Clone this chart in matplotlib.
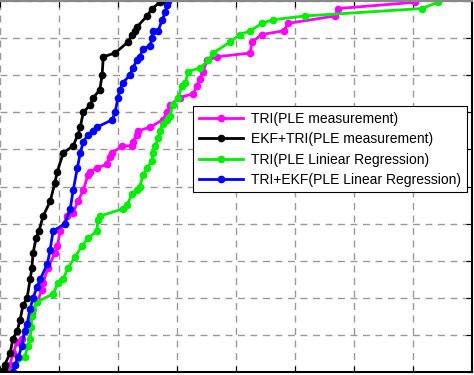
import matplotlib
matplotlib.use('Agg')
import matplotlib.pyplot as plt

# CDF curves (x in grid units, y = cumulative probability)
tri_meas_x = [0.10, 0.17, 0.22, 0.29, 0.37, 0.46, 0.54, 0.63, 0.71, 0.73, 0.81, 0.93, 0.97,
              1.02, 1.14, 1.24, 1.32, 1.41, 1.49, 1.53, 1.64, 1.81, 1.86, 1.90, 2.07, 2.24,
              2.25, 2.32, 2.34, 2.54, 2.76, 2.83, 2.88, 3.05, 3.27, 3.34, 3.39, 3.44, 3.51,
              3.68, 4.24, 4.27, 4.44, 4.81, 4.88, 5.68, 5.73, 7.03]
tri_meas_y = [0.005, 0.02, 0.05, 0.08, 0.09, 0.12, 0.16, 0.19, 0.22, 0.24, 0.28, 0.32, 0.34,
              0.38, 0.42, 0.43, 0.46, 0.49, 0.53, 0.54, 0.55, 0.56, 0.58, 0.59, 0.61, 0.61,
              0.62, 0.64, 0.65, 0.66, 0.68, 0.70, 0.72, 0.74, 0.75, 0.77, 0.79, 0.81, 0.84,
              0.85, 0.86, 0.89, 0.91, 0.92, 0.94, 0.96, 0.98, 0.997]

ekf_meas_x = [0.07, 0.08, 0.17, 0.22, 0.29, 0.34, 0.39, 0.46, 0.51, 0.54, 0.56, 0.61, 0.66,
              0.73, 0.85, 0.93, 0.97, 1.07, 1.24, 1.32, 1.36, 1.41, 1.53, 1.58, 1.69, 1.73,
              1.75, 1.95, 2.17, 2.24, 2.29, 2.32, 2.49, 2.58, 2.71, 2.82]
ekf_meas_y = [0.005, 0.02, 0.05, 0.09, 0.11, 0.14, 0.18, 0.20, 0.25, 0.28, 0.32, 0.36, 0.38,
              0.42, 0.46, 0.51, 0.54, 0.59, 0.61, 0.64, 0.66, 0.70, 0.72, 0.74, 0.76, 0.80,
              0.85, 0.86, 0.89, 0.91, 0.92, 0.93, 0.96, 0.98, 0.997, 1.0]

tri_lr_x = [0.20, 0.25, 0.42, 0.47, 0.51, 0.53, 0.54, 0.56, 0.63, 0.90, 0.98, 1.07, 1.15,
            1.27, 1.39, 1.49, 1.64, 1.66, 1.69, 2.08, 2.15, 2.24, 2.32, 2.37, 2.42, 2.49,
            2.58, 2.59, 2.63, 2.68, 2.71, 2.76, 2.83, 2.88, 2.93, 3.02, 3.08, 3.14, 3.19,
            3.39, 3.53, 3.61, 3.90, 4.07, 4.24, 4.44, 4.63, 5.17, 7.15, 7.42]
tri_lr_y = [0.0, 0.02, 0.04, 0.07, 0.09, 0.12, 0.15, 0.17, 0.19, 0.21, 0.24, 0.25, 0.28,
            0.31, 0.34, 0.36, 0.38, 0.41, 0.42, 0.44, 0.45, 0.48, 0.49, 0.50, 0.53, 0.55,
            0.57, 0.59, 0.61, 0.63, 0.65, 0.67, 0.68, 0.69, 0.72, 0.74, 0.77, 0.78, 0.81,
            0.82, 0.84, 0.86, 0.89, 0.91, 0.92, 0.94, 0.95, 0.96, 0.98, 0.997]

tri_ekf_lr_x = [0.22, 0.25, 0.31, 0.37, 0.42, 0.46, 0.51, 0.56, 0.63, 0.68, 0.80, 0.85, 0.90,
                1.10, 1.19, 1.24, 1.31, 1.36, 1.41, 1.49, 1.58, 1.64, 1.90, 1.95, 2.00, 2.03,
                2.08, 2.20, 2.25, 2.32, 2.37, 2.42, 2.54, 2.58, 2.59, 2.68, 2.75, 2.80, 2.83,
                2.85]
tri_ekf_lr_y = [0.0, 0.02, 0.04, 0.07, 0.11, 0.13, 0.17, 0.20, 0.23, 0.25, 0.29, 0.33, 0.38,
                0.40, 0.44, 0.49, 0.55, 0.59, 0.62, 0.64, 0.65, 0.66, 0.68, 0.70, 0.74, 0.76,
                0.78, 0.80, 0.82, 0.84, 0.85, 0.87, 0.88, 0.90, 0.92, 0.92, 0.95, 0.97, 0.99,
                1.0]

labels = ['TRI(PLE measurement)', 'EKF+TRI(PLE measurement)',
          'TRI(PLE Liniear Regression)', 'TRI+EKF(PLE Linear Regression)']
colors = ['#ff00ff', 'black', '#00ee00', '#0000ff']

plt.rcParams['font.family'] = ['Liberation Sans', 'DejaVu Sans']

fig = plt.figure(figsize=(4.74, 3.75), dpi=100)
ax = fig.add_axes([0.0, 0.008, 0.996, 0.989])

series = [(tri_meas_x, tri_meas_y), (ekf_meas_x, ekf_meas_y),
          (tri_lr_x, tri_lr_y), (tri_ekf_lr_x, tri_ekf_lr_y)]
for (xs, ys), lab, c in zip(series, labels, colors):
    ax.plot(xs, ys, '-o', color=c, lw=2, ms=4.5, label=lab)

ax.set_xlim(0, 8)
ax.set_ylim(0, 1)
ax.set_xticks(range(0, 9))
ax.set_yticks([i / 10 for i in range(11)])
ax.tick_params(direction='in', labelleft=False, labelbottom=False, left=False,
               top=True, right=True, length=4)
ax.grid(True, color='#999999', ls=(0, (5, 4)), lw=1)
for s in ax.spines.values():
    s.set_linewidth(1.5)
ax.spines['left'].set_visible(False)
ax.spines['top'].set_color('#888888')

leg = ax.legend(loc='upper left', bbox_to_anchor=(0.409, 0.716), fontsize=10,
                fancybox=False, framealpha=1, edgecolor='black', handlelength=3.2,
                borderpad=0.4, labelspacing=0.45, handletextpad=0.6, borderaxespad=0)
leg.get_frame().set_linewidth(0.8)

fig.savefig('out.png', dpi=100)
